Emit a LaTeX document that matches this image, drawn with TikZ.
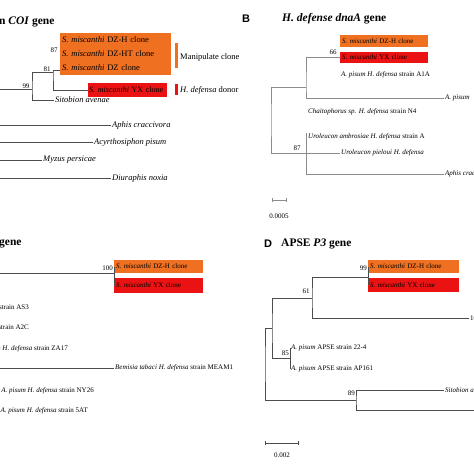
\documentclass[tikz,border=0pt]{standalone}
\usepackage{fontspec}
\setmainfont{Liberation Serif}
\newfontfamily\hdsans{Liberation Sans}
\usetikzlibrary{arrows.meta}
\definecolor{orng}{RGB}{240,112,34}
\definecolor{rd}{RGB}{234,18,18}
\tikzset{
  br/.style={draw=black!70,line width=0.9pt},
  bb/.style={draw=black!45,line width=0.6pt},
  lf/.style={anchor=west,inner sep=1pt,font=\fontsize{7}{8}\selectfont},
  lfa/.style={lf,font=\fontsize{8.5}{9}\selectfont},
  bl/.style={inner sep=0pt,font=\fontsize{7}{8}\selectfont},
  ttl/.style={anchor=west,inner sep=0pt,font=\fontsize{11.5}{13}\selectfont\bfseries},
  obox/.style={lf,fill=orng,inner xsep=2pt,text width=#1,align=left},
  rbox/.style={lf,fill=rd,inner xsep=2pt,text width=#1,align=left},
  sbar/.style={{Bar[width=4pt]}-{Bar[width=4pt]}}
}
\begin{document}
\begin{tikzpicture}[x=1pt,y=-1pt]
\useasboundingbox (0,0) rectangle (474,474);
\clip (0,0) rectangle (474,474);
% A
\node[ttl] (atitle) at (-1,22) {n \textit{COI} gene};
\coordinate (aroot) at (-2,89);
\coordinate (a99) at (32,89);
\coordinate (a81) at (53,72);
\coordinate (a87) at (60,70);
\node[obox=107pt,minimum height=42pt,font=\fontsize{8.5}{14}\selectfont] (aclone) at (60,54)
  {\textit{S. miscanthi} DZ-H clone\\\textit{S. miscanthi} DZ-HT clone\\\textit{S. miscanthi} DZ clone};
\node[rbox=77pt,minimum height=14pt,inner xsep=1pt,font=\fontsize{8}{9}\selectfont] (ayx) at (88,90) {\mbox{\textit{S. miscanthi} YX clone}};
\node[lfa] (asit) at (54,100) {\textit{Sitobion avenae}};
\draw[br] (aroot) -- (a99);
\draw[br] (a81) -| (a99) |- (asit.west);
\draw[br] (a87) -| (a81) |- (ayx.west);
\node[bl] at (54,50) {87};
\node[bl] at (47,69) {81};
\node[bl] at (26,86) {99};
\fill[orng] (175,43) rectangle (178,68);
\fill[rd] (175,84) rectangle (178,95);
\node[lfa] (amanip) at (179,57) {Manipulate clone};
\node[lfa] (adonor) at (179,90) {\textit{H. defensa} donor};
\node[lfa] (aaph) at (111,125) {\textit{Aphis craccivora}};
\node[lfa] (aacy) at (93,142) {\textit{Acyrthosiphon pisum}};
\node[lfa] (amyz) at (42,160) {\textit{Myzus persicae}};
\node[lfa] (adiu) at (111,178) {\textit{Diuraphis noxia}};
\foreach \n in {aaph,aacy,amyz,adiu}
  \draw[br] (\n.west) -- (\n.west -| aroot);
% B
\node[ttl,font=\fontsize{11}{13}\selectfont\bfseries\hdsans] (blet) at (242,19) {B};
\node[ttl] (btitle) at (282,19) {\textit{H. defense dnaA} gene};
\node[obox=84pt,minimum height=12pt] (bdzh) at (340,41) {\textit{S. miscanthi} DZ-H clone};
\node[rbox=84pt,minimum height=11pt] (byx) at (340,57.5) {\textit{S. miscanthi} YX clone};
\node[lf] (ba1a) at (340,75) {\textit{A. pisum H. defensa} strain A1A};
\node[lf] (bap) at (444,98) {\textit{A. pisum}};
\node[lf] (bn4) at (307,112) {\textit{Chaitophorus sp. H. defensa} strain N4};
\node[lf] (bamb) at (307,137) {\textit{Uroleucon ambrosiae H. defensa} strain A};
\node[lf] (bpie) at (340,153) {\textit{Uroleucon pieloui H. defensa}};
\node[lf] (baph) at (444,174) {\textit{Aphis craccivora}};
\coordinate (b66) at (306,87);
\coordinate (broot) at (271,120);
\coordinate (b87) at (306,153);
\draw[bb] (byx.west) -| (b66) |- (bap.west);
\draw[bb] (b66) -| (broot) |- (bpie.west);
\draw[bb] (bamb.north west -| b87) |- (baph.west);
\node[bl] at (333,52) {66};
\node[bl] at (297,148) {87};
\coordinate (bs1) at (272,200);
\coordinate (bs2) at (287,200);
\draw[bb,sbar] (bs1) -- (bs2);
\node[bl] (bscale) at (279,216) {0.0005};
% C
\node[ttl] (ctitle) at (-1,244) {gene};
\coordinate (croot) at (-2,273);
\coordinate (c100) at (114,273);
\node[obox=85pt,minimum height=13pt] (cdzh) at (114,266.5) {\textit{S. miscanthi} DZ-H clone};
\node[rbox=85pt,minimum height=15pt] (cyx) at (114,285.5) {\textit{S. miscanthi} YX clone};
\draw[br] (croot) -- (c100);
\draw[br] (cdzh.west) -- (cyx.west);
\node[bl,anchor=east] at (113,268) {100};
\node[lf,anchor=east] (cas3) at (30,308) {\textit{A. pisum H. defensa} strain AS3};
\node[lf,anchor=east] (ca2c) at (30,328) {\textit{A. pisum H. defensa} strain A2C};
\node[lf,anchor=east] (cza) at (69,349) {\textit{A. pisum H. defensa} strain ZA17};
\node[lf] (cbem) at (114,368) {\textit{Bemisia tabaci H. defensa} strain MEAM1};
\draw[br] (cbem.west) -- (cbem.west -| croot);
\node[lf,anchor=east] (cny) at (95,391) {\textit{A. pisum H. defensa} strain NY26};
\node[lf,anchor=east] (c5at) at (89,411) {\textit{A. pisum H. defensa} strain 5AT};
% D
\node[ttl,font=\fontsize{11}{13}\selectfont\bfseries\hdsans] (dlet) at (264,244) {D};
\node[ttl] (dtitle) at (281,244) {APSE \textit{P3} gene};
\node[obox=87pt,minimum height=13pt] (ddzh) at (368,266.5) {\textit{S. miscanthi} DZ-H clone};
\node[rbox=87pt,minimum height=14pt] (dyx) at (368,285) {\textit{S. miscanthi} YX clone};
\node[lf] (dten) at (469,318) {10};
\node[lf] (d22) at (290,348) {\textit{A. pisum} APSE strain 22-4};
\node[lf] (dap) at (290,369) {\textit{A. pisum} APSE strain AP161};
\node[lf] (dsit) at (444,390) {\textit{Sitobion avenae}};
\coordinate (d99) at (368,277);
\coordinate (d61) at (312,298);
\coordinate (dn) at (272,328);
\coordinate (d85) at (290,358);
\coordinate (droot) at (265,364);
\coordinate (d89) at (356,400);
\coordinate (dend) at (476,410);
\draw[br] (ddzh.west) -- (dyx.west);
\draw[br] (d99) -| (d61) |- (dten.west);
\draw[br] (d61) -| (dn) |- (d85);
\draw[br] (d22.west) -- (dap.west);
\draw[br] (dn) -| (droot) |- (d89);
\draw[br] (dsit.west) -| (d89) |- (dend);
\node[bl,anchor=east] at (367,268) {99};
\node[bl] at (306,291) {61};
\node[bl,anchor=east] at (289,353) {85};
\node[bl,anchor=east] at (355,393) {89};
\coordinate (ds1) at (265,443);
\coordinate (ds2) at (299,443);
\draw[br,sbar] (ds1) -- (ds2);
\node[bl] (dscale) at (282,455) {0.002};
\end{tikzpicture}
\end{document}
